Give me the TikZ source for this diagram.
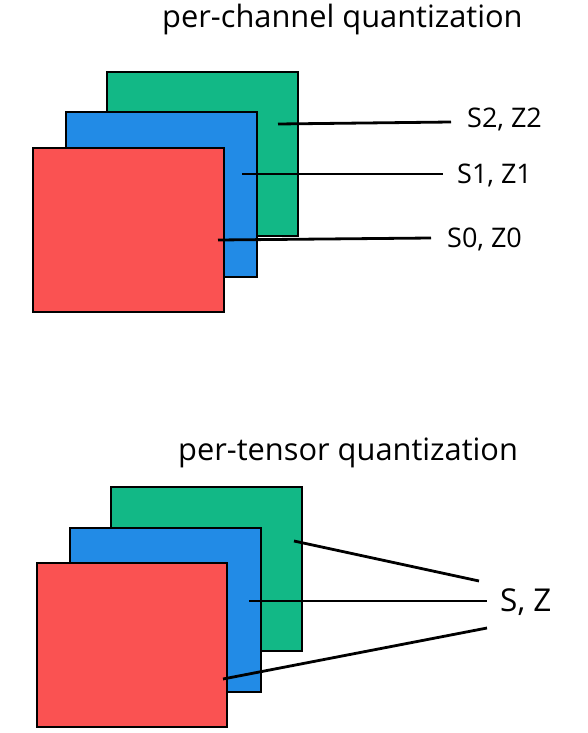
\documentclass[tikz,border=0pt]{standalone}
\usepackage{fontspec}
\setmainfont{Open Sans}
\definecolor{gr}{RGB}{18,184,134}
\definecolor{bl}{RGB}{34,139,230}
\definecolor{rd}{RGB}{250,82,82}
\begin{document}
\begin{tikzpicture}[x=1pt,y=-1pt,
  sq/.style={draw=black,line width=2.6pt,anchor=north west,inner sep=0pt,outer sep=0pt},
  ln/.style={draw=black,line width=2.8pt},
  lbl/.style={font=\fontsize{27}{32}\selectfont,inner sep=0pt,anchor=base west},
  ttl/.style={font=\fontsize{30.8}{36}\selectfont,inner sep=0pt,anchor=base west},
  big/.style={font=\fontsize{31.5}{36}\selectfont,inner sep=0pt,anchor=base west}]
\useasboundingbox (0,0) rectangle (587,733);
% top
\node[ttl] (t1) at (162,28) {per-channel quantization};
\node[sq,fill=gr,minimum width=191,minimum height=164] (g1) at (107,72) {};
\node[sq,fill=bl,minimum width=191,minimum height=165] (b1) at (66,112) {};
\node[sq,fill=rd,minimum width=191,minimum height=164] (r1) at (33,148) {};
\node[lbl] (s2) at (467,128) {S2, Z2};
\node[lbl] (s1) at (457,183) {S1, Z1};
\node[lbl] (s0) at (447,247) {S0, Z0};
\coordinate (g1p) at (278,124);
\coordinate (b1p) at (242,174);
\coordinate (r1p) at (218,240);
\coordinate (s2e) at (451,122);
\coordinate (s1e) at (443,174);
\coordinate (s0e) at (431,238);
\draw[ln] (g1p) -- (s2e);
\draw[ln] (b1p) -- (s1e);
\draw[ln] (r1p) -- (s0e);
% bottom
\node[ttl] (t2) at (178,460) {per-tensor quantization};
\node[sq,fill=gr,minimum width=191,minimum height=164] (g2) at (111,487) {};
\node[sq,fill=bl,minimum width=191,minimum height=164] (b2) at (70,528) {};
\node[sq,fill=rd,minimum width=190,minimum height=164] (r2) at (37,563) {};
\node[big] (sz) at (500,611) {S, Z};
\coordinate (g2p) at (294,541);
\coordinate (b2p) at (249,601);
\coordinate (r2p) at (223,679);
\coordinate (sz1) at (479,581);
\coordinate (sz2) at (487,601);
\coordinate (sz3) at (487,628);
\draw[ln] (g2p) -- (sz1);
\draw[ln] (b2p) -- (sz2);
\draw[ln] (r2p) -- (sz3);
\end{tikzpicture}
\end{document}
